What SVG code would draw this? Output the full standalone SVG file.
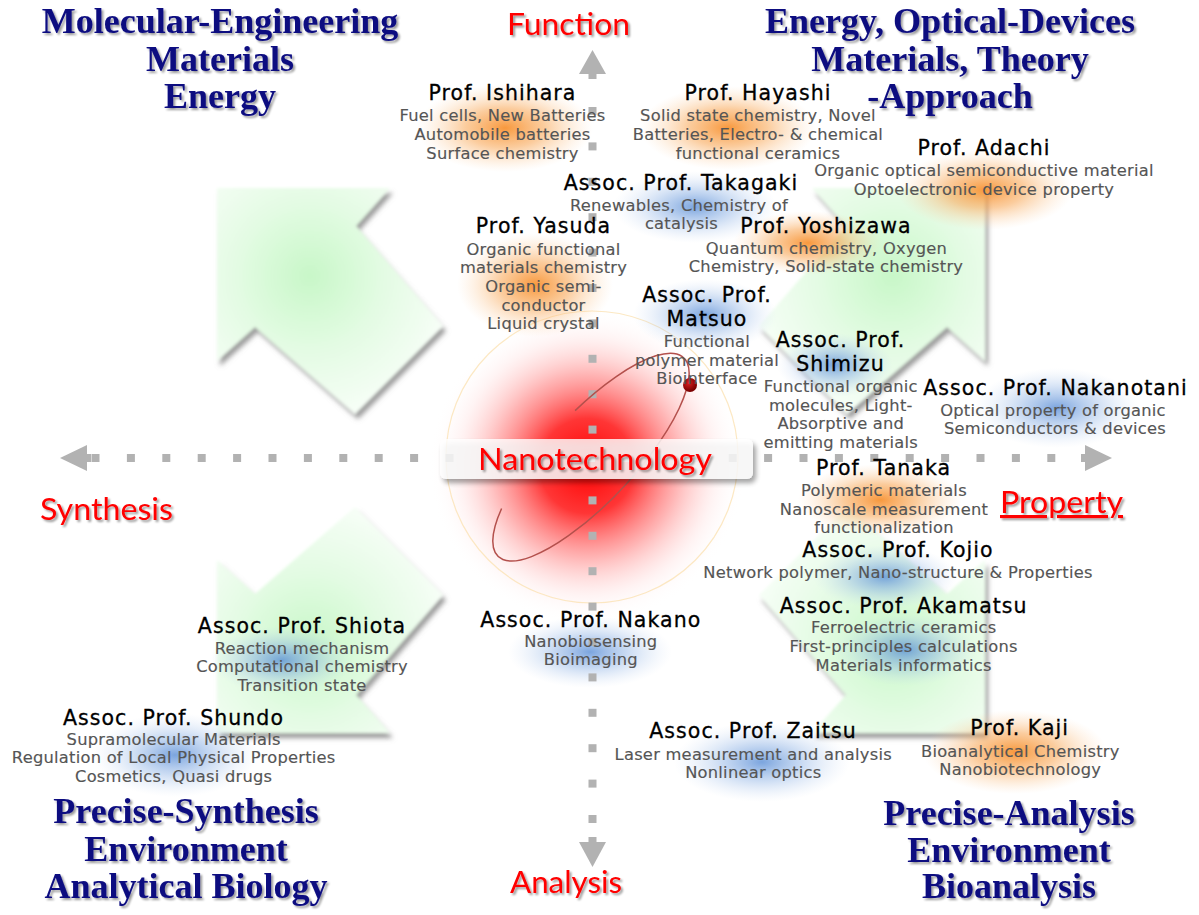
<svg xmlns="http://www.w3.org/2000/svg" width="1199" height="915" viewBox="0 0 1199 915">
<defs>
<style>
.nm{font-family:"DejaVu Sans","Noto Sans",sans-serif;font-size:20.5px;letter-spacing:1.05px;fill:#000;stroke:#000;stroke-width:0.3px;text-anchor:middle}
.ds{font-family:"DejaVu Sans","Noto Sans",sans-serif;font-size:16.3px;letter-spacing:0.25px;fill:#555555;stroke:#555555;stroke-width:0.15px;text-anchor:middle}
.ttl{font-family:"Liberation Serif","Times New Roman",serif;font-weight:bold;font-size:36px;fill:#0b0b80;text-anchor:middle}
.ax{font-family:Lato,"Open Sans",sans-serif;font-size:31px;fill:#ff0000;text-anchor:middle}
.sq{fill:#b2b2b2}
.arr{fill:url(#gArrow)}
.or{fill:url(#gOr)}
.bl{fill:url(#gBl)}
</style>
<radialGradient id="gArrow" cx="0.41" cy="0.39" r="0.62">
<stop offset="0" stop-color="#c8f7c8"/>
<stop offset="0.5" stop-color="#e2fbe2"/>
<stop offset="1" stop-color="#f6fef6"/>
</radialGradient>
<radialGradient id="gOr">
<stop offset="0" stop-color="#f78d28" stop-opacity="0.9"/>
<stop offset="0.45" stop-color="#f8a34e" stop-opacity="0.55"/>
<stop offset="1" stop-color="#fcd2a6" stop-opacity="0"/>
</radialGradient>
<radialGradient id="gBl">
<stop offset="0" stop-color="#5a8ed6" stop-opacity="0.8"/>
<stop offset="0.45" stop-color="#86ade3" stop-opacity="0.45"/>
<stop offset="1" stop-color="#c6d8f2" stop-opacity="0"/>
</radialGradient>
<radialGradient id="gRed" cx="0.5" cy="0.5" r="0.5">
<stop offset="0" stop-color="#ff0000" stop-opacity="1"/>
<stop offset="0.3" stop-color="#ff1a1a" stop-opacity="0.88"/>
<stop offset="0.58" stop-color="#ff6a6a" stop-opacity="0.5"/>
<stop offset="0.82" stop-color="#ffc0c0" stop-opacity="0.18"/>
<stop offset="1" stop-color="#ffffff" stop-opacity="0"/>
</radialGradient>
<radialGradient id="gBall" cx="0.4" cy="0.35" r="0.6">
<stop offset="0" stop-color="#d82020"/>
<stop offset="1" stop-color="#7a0000"/>
</radialGradient>
<filter id="fArrow" x="-20%" y="-20%" width="150%" height="150%">
<feGaussianBlur in="SourceAlpha" stdDeviation="2.2"/>
<feOffset dx="3" dy="5" result="sh"/>
<feFlood flood-color="#808080" flood-opacity="0.8"/>
<feComposite in2="sh" operator="in" result="shc"/>
<feMerge><feMergeNode in="shc"/><feMergeNode in="SourceGraphic"/></feMerge>
<feGaussianBlur stdDeviation="1.5"/>
</filter>
<filter id="fTxt" x="-10%" y="-30%" width="130%" height="170%">
<feGaussianBlur in="SourceAlpha" stdDeviation="1.3"/>
<feOffset dx="2" dy="2"/>
<feComponentTransfer><feFuncA type="linear" slope="0.4"/></feComponentTransfer>
<feMerge><feMergeNode/><feMergeNode in="SourceGraphic"/></feMerge>
</filter>
<filter id="fBox" x="-10%" y="-40%" width="130%" height="200%">
<feGaussianBlur in="SourceAlpha" stdDeviation="2.5"/>
<feOffset dx="3" dy="4"/>
<feComponentTransfer><feFuncA type="linear" slope="0.45"/></feComponentTransfer>
<feMerge><feMergeNode/><feMergeNode in="SourceGraphic"/></feMerge>
</filter>
<polygon id="arrowShape" points="217,188 390,188 356,226 443,326 355,414 255,327 217,361"/>
</defs>

<rect width="1199" height="915" fill="#ffffff"/>

<!-- background big arrows -->
<g id="bg-arrows">
<g filter="url(#fArrow)"><use href="#arrowShape" class="arr"/></g>
<g filter="url(#fArrow)"><use href="#arrowShape" class="arr" transform="matrix(-1,0,0,1,1202,0)"/></g>
<g filter="url(#fArrow)"><use href="#arrowShape" class="arr" transform="matrix(1,0,0,-1,0,921)"/></g>
<g filter="url(#fArrow)"><use href="#arrowShape" class="arr" transform="matrix(-1,0,0,-1,1202,921)"/></g>
</g>

<!-- nanotech sphere -->
<g id="sphere">
<circle cx="587" cy="466" r="158" fill="url(#gRed)"/>
<circle cx="592" cy="457" r="146" fill="none" stroke="#fbe2b4" stroke-width="1.2" opacity="0.8"/>
</g>

<!-- colored spots -->
<g id="spots">
<ellipse class="or" cx="505" cy="128" rx="88" ry="44"/>
<ellipse class="or" cx="728" cy="128" rx="88" ry="42"/>
<ellipse class="bl" cx="695" cy="207" rx="82" ry="36"/>
<ellipse class="or" cx="985" cy="190" rx="88" ry="40"/>
<ellipse class="or" cx="535" cy="285" rx="78" ry="52"/>
<ellipse class="or" cx="808" cy="243" rx="75" ry="32"/>
<ellipse class="bl" cx="705" cy="315" rx="72" ry="36"/>
<ellipse class="bl" cx="835" cy="365" rx="58" ry="32"/>
<ellipse class="bl" cx="1057" cy="408" rx="82" ry="40"/>
<ellipse class="or" cx="880" cy="500" rx="82" ry="36"/>
<ellipse class="bl" cx="885" cy="577" rx="72" ry="32"/>
<ellipse class="bl" cx="905" cy="650" rx="72" ry="36"/>
<ellipse class="bl" cx="590" cy="652" rx="82" ry="36"/>
<ellipse class="bl" cx="282" cy="660" rx="72" ry="34"/>
<ellipse class="bl" cx="175" cy="755" rx="82" ry="42"/>
<ellipse class="bl" cx="762" cy="762" rx="88" ry="40"/>
<ellipse class="or" cx="1015" cy="752" rx="92" ry="42"/>
</g>

<!-- axes (connectors) -->
<g id="connectors">
<polygon class="sq" points="60,458 87,445 87,471"/>
<rect class="sq" x="87" y="454" width="4" height="8"/>
<polygon class="sq" points="1112,458 1085,445 1085,471"/>
<rect class="sq" x="1081" y="454" width="4" height="8"/>
<polygon class="sq" points="592.5,50 579,74 606,74"/>
<rect class="sq" x="588.5" y="74" width="8" height="5"/>
<polygon class="sq" points="592.5,867 579,842 606,842"/>
<rect class="sq" x="588.5" y="837" width="8" height="5"/>
<rect class="sq" x="91.5" y="454" width="8" height="8"/>
<rect class="sq" x="126.9" y="454" width="8" height="8"/>
<rect class="sq" x="162.3" y="454" width="8" height="8"/>
<rect class="sq" x="197.7" y="454" width="8" height="8"/>
<rect class="sq" x="233.1" y="454" width="8" height="8"/>
<rect class="sq" x="268.5" y="454" width="8" height="8"/>
<rect class="sq" x="303.9" y="454" width="8" height="8"/>
<rect class="sq" x="339.3" y="454" width="8" height="8"/>
<rect class="sq" x="374.7" y="454" width="8" height="8"/>
<rect class="sq" x="410.1" y="454" width="8" height="8"/>
<rect class="sq" x="445.5" y="454" width="8" height="8"/>
<rect class="sq" x="480.9" y="454" width="8" height="8"/>
<rect class="sq" x="516.3" y="454" width="8" height="8"/>
<rect class="sq" x="551.7" y="454" width="8" height="8"/>
<rect class="sq" x="587.1" y="454" width="8" height="8"/>
<rect class="sq" x="622.5" y="454" width="8" height="8"/>
<rect class="sq" x="657.9" y="454" width="8" height="8"/>
<rect class="sq" x="693.3" y="454" width="8" height="8"/>
<rect class="sq" x="728.7" y="454" width="8" height="8"/>
<rect class="sq" x="764.1" y="454" width="8" height="8"/>
<rect class="sq" x="799.5" y="454" width="8" height="8"/>
<rect class="sq" x="834.9" y="454" width="8" height="8"/>
<rect class="sq" x="870.3" y="454" width="8" height="8"/>
<rect class="sq" x="905.7" y="454" width="8" height="8"/>
<rect class="sq" x="941.1" y="454" width="8" height="8"/>
<rect class="sq" x="976.5" y="454" width="8" height="8"/>
<rect class="sq" x="1011.9" y="454" width="8" height="8"/>
<rect class="sq" x="1047.3" y="454" width="8" height="8"/>
<rect class="sq" x="588.5" y="107" width="8" height="8"/>
<rect class="sq" x="588.5" y="142.4" width="8" height="8"/>
<rect class="sq" x="588.5" y="177.8" width="8" height="8"/>
<rect class="sq" x="588.5" y="213.2" width="8" height="8"/>
<rect class="sq" x="588.5" y="248.6" width="8" height="8"/>
<rect class="sq" x="588.5" y="284" width="8" height="8"/>
<rect class="sq" x="588.5" y="319.4" width="8" height="8"/>
<rect class="sq" x="588.5" y="354.8" width="8" height="8"/>
<rect class="sq" x="588.5" y="390.2" width="8" height="8"/>
<rect class="sq" x="588.5" y="425.6" width="8" height="8"/>
<rect class="sq" x="588.5" y="496.4" width="8" height="8"/>
<rect class="sq" x="588.5" y="531.8" width="8" height="8"/>
<rect class="sq" x="588.5" y="567.2" width="8" height="8"/>
<rect class="sq" x="588.5" y="602.6" width="8" height="8"/>
<rect class="sq" x="588.5" y="638" width="8" height="8"/>
<rect class="sq" x="588.5" y="673.4" width="8" height="8"/>
<rect class="sq" x="588.5" y="708.8" width="8" height="8"/>
<rect class="sq" x="588.5" y="744.2" width="8" height="8"/>
<rect class="sq" x="588.5" y="779.6" width="8" height="8"/>
<rect class="sq" x="588.5" y="815" width="8" height="8"/>
</g>

<!-- orbit -->
<g id="orbit">
<path d="M575.1,410.6 A136,44 -47 1 1 501.6,508.5" fill="none" stroke="#b4504c" stroke-width="1.5"/>
<circle cx="690" cy="385" r="7" fill="url(#gBall)"/>
</g>

<!-- titles -->
<g id="title-tl" filter="url(#fTxt)">
<text class="ttl" x="220" y="33">Molecular-Engineering</text>
<text class="ttl" x="220" y="71">Materials</text>
<text class="ttl" x="220" y="108">Energy</text>
</g>
<g id="title-tr" filter="url(#fTxt)">
<text class="ttl" x="950" y="33">Energy, Optical-Devices</text>
<text class="ttl" x="950" y="71">Materials, Theory</text>
<text class="ttl" x="950" y="108">-Approach</text>
</g>
<g id="title-bl" filter="url(#fTxt)">
<text class="ttl" x="186" y="823">Precise-Synthesis</text>
<text class="ttl" x="186" y="861">Environment</text>
<text class="ttl" x="186" y="898">Analytical Biology</text>
</g>
<g id="title-br" filter="url(#fTxt)">
<text class="ttl" x="1009" y="825">Precise-Analysis</text>
<text class="ttl" x="1009" y="862">Environment</text>
<text class="ttl" x="1009" y="898">Bioanalysis</text>
</g>

<!-- axis labels -->
<g id="axis-labels" filter="url(#fTxt)">
<text class="ax" x="568.5" y="35" textLength="123" lengthAdjust="spacingAndGlyphs">Function</text>
<text class="ax" x="106.5" y="520" textLength="133" lengthAdjust="spacingAndGlyphs">Synthesis</text>
<text class="ax" x="1061.5" y="513" textLength="123" lengthAdjust="spacingAndGlyphs" text-decoration="underline">Property</text>
<text class="ax" x="566" y="893" textLength="112" lengthAdjust="spacingAndGlyphs">Analysis</text>
</g>

<!-- professor nodes -->
<g id="ishihara">
<text class="nm" x="502.5" y="100">Prof. Ishihara</text>
<text class="ds"><tspan x="502.5" y="120.5">Fuel cells, New Batteries</tspan><tspan x="502.5" y="139.5">Automobile batteries</tspan><tspan x="502.5" y="158.5">Surface chemistry</tspan></text>
</g>
<g id="hayashi">
<text class="nm" x="758" y="100">Prof. Hayashi</text>
<text class="ds"><tspan x="758" y="120.5">Solid state chemistry, Novel</tspan><tspan x="758" y="139.5">Batteries, Electro- &amp; chemical</tspan><tspan x="758" y="158.5">functional ceramics</tspan></text>
</g>
<g id="takagaki">
<text class="nm" x="681" y="190">Assoc. Prof. Takagaki</text>
<text class="ds"><tspan x="679" y="210.5">Renewables, Chemistry of</tspan><tspan x="681.5" y="228.5">catalysis</tspan></text>
</g>
<g id="adachi">
<text class="nm" x="984" y="155">Prof. Adachi</text>
<text class="ds"><tspan x="984" y="176">Organic optical semiconductive material</tspan><tspan x="984" y="194.5">Optoelectronic device property</tspan></text>
</g>
<g id="yasuda">
<text class="nm" x="543.5" y="233">Prof. Yasuda</text>
<text class="ds"><tspan x="543.5" y="254.5">Organic functional</tspan><tspan x="543.5" y="273.3">materials chemistry</tspan><tspan x="543.5" y="292">Organic semi-</tspan><tspan x="543.5" y="310.5">conductor</tspan><tspan x="543.5" y="329.3">Liquid crystal</tspan></text>
</g>
<g id="yoshizawa">
<text class="nm" x="826" y="233.3">Prof. Yoshizawa</text>
<text class="ds"><tspan x="826.5" y="254">Quantum chemistry, Oxygen</tspan><tspan x="826" y="272.3">Chemistry, Solid-state chemistry</tspan></text>
</g>
<g id="matsuo">
<text class="nm"><tspan x="707" y="301.7">Assoc. Prof.</tspan><tspan x="707" y="325.7">Matsuo</tspan></text>
<text class="ds"><tspan x="707" y="346.7">Functional</tspan><tspan x="707" y="365.5">polymer material</tspan><tspan x="707" y="384">Biointerface</tspan></text>
</g>
<g id="shimizu">
<text class="nm"><tspan x="840.5" y="346.7">Assoc. Prof.</tspan><tspan x="840.5" y="370.7">Shimizu</tspan></text>
<text class="ds"><tspan x="840.8" y="391.7">Functional organic</tspan><tspan x="840.8" y="410.7">molecules, Light-</tspan><tspan x="840.8" y="429.3">Absorptive and</tspan><tspan x="840.8" y="448.3">emitting materials</tspan></text>
</g>
<g id="nakanotani">
<text class="nm" x="1055.5" y="395">Assoc. Prof. Nakanotani</text>
<text class="ds"><tspan x="1053" y="415.7">Optical property of organic</tspan><tspan x="1055" y="434.3">Semiconductors &amp; devices</tspan></text>
</g>
<g id="tanaka">
<text class="nm" x="883.5" y="475">Prof. Tanaka</text>
<text class="ds"><tspan x="884" y="496">Polymeric materials</tspan><tspan x="884" y="514.5">Nanoscale measurement</tspan><tspan x="884" y="533.3">functionalization</tspan></text>
</g>
<g id="kojio">
<text class="nm" x="898" y="557.3">Assoc. Prof. Kojio</text>
<text class="ds" x="898" y="577.7">Network polymer, Nano-structure &amp; Properties</text>
</g>
<g id="akamatsu">
<text class="nm" x="903.7" y="613.3">Assoc. Prof. Akamatsu</text>
<text class="ds"><tspan x="903.7" y="633.3">Ferroelectric ceramics</tspan><tspan x="903.7" y="652.3">First-principles calculations</tspan><tspan x="903.7" y="670.7">Materials informatics</tspan></text>
</g>
<g id="nakano">
<text class="nm" x="590.8" y="626.7">Assoc. Prof. Nakano</text>
<text class="ds"><tspan x="590.8" y="646.7">Nanobiosensing</tspan><tspan x="590.8" y="665">Bioimaging</tspan></text>
</g>
<g id="shiota">
<text class="nm" x="302" y="633.3">Assoc. Prof. Shiota</text>
<text class="ds"><tspan x="302" y="654">Reaction mechanism</tspan><tspan x="302" y="672.3">Computational chemistry</tspan><tspan x="302" y="691">Transition state</tspan></text>
</g>
<g id="shundo">
<text class="nm" x="173.5" y="725">Assoc. Prof. Shundo</text>
<text class="ds"><tspan x="173.7" y="745">Supramolecular Materials</tspan><tspan x="173.7" y="763.3">Regulation of Local Physical Properties</tspan><tspan x="173.7" y="782.3">Cosmetics, Quasi drugs</tspan></text>
</g>
<g id="zaitsu">
<text class="nm" x="753" y="738.3">Assoc. Prof. Zaitsu</text>
<text class="ds"><tspan x="753.3" y="760">Laser measurement and analysis</tspan><tspan x="753.3" y="778.3">Nonlinear optics</tspan></text>
</g>
<g id="kaji">
<text class="nm" x="1019.7" y="735">Prof. Kaji</text>
<text class="ds"><tspan x="1020.3" y="756.7">Bioanalytical Chemistry</tspan><tspan x="1020.3" y="775">Nanobiotechnology</tspan></text>
</g>

<!-- central label -->
<g id="nanotechnology">
<rect x="440" y="439" width="313" height="40" rx="6" fill="#ffffff" fill-opacity="0.8" filter="url(#fBox)"/>
<text class="ax" x="595" y="470" textLength="234" lengthAdjust="spacingAndGlyphs" filter="url(#fTxt)">Nanotechnology</text>
</g>
</svg>
